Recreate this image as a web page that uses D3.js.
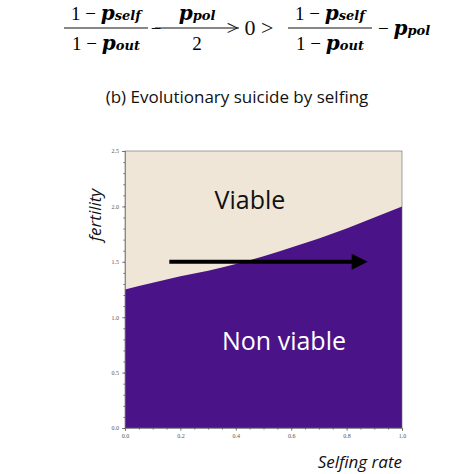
<!DOCTYPE html><html><head><meta charset="utf-8"><script src="https://cdn.jsdelivr.net/npm/d3@7"></script>
<style>body{margin:0;background:#fff}</style></head><body><svg id="c" width="474" height="474"></svg>
<script>
const selfing=[0,0.1,0.2,0.3,0.4,0.5,0.6,0.7,0.8,0.9,1.0];
const boundary=[1.25,1.31,1.37,1.42,1.48,1.55,1.63,1.71,1.80,1.90,2.0];
const arrowX=[0.16,0.83], arrowY=1.5;
const xTicks=[0,0.2,0.4,0.6,0.8,1.0], yTicks=[0,0.5,1.0,1.5,2.0,2.5];
const svg=d3.select("#c");
const x=d3.scaleLinear([0,1],[125,402]), y=d3.scaleLinear([0,2.5],[428,151]);
svg.append("rect").attr("x",x(0)).attr("y",y(2.5)).attr("width",x(1)-x(0)).attr("height",y(0)-y(2.5)).attr("fill","#efe6d7");
const pts=selfing.map((s,i)=>[s,boundary[i]]);
svg.append("path").attr("fill","#4a1488").attr("d",d3.area().x(d=>x(d[0])).y0(y(0)).y1(d=>y(d[1])).curve(d3.curveMonotoneX)(pts));
svg.append("rect").attr("x",x(0)).attr("y",y(2.5)).attr("width",x(1)-x(0)).attr("height",y(0)-y(2.5)).attr("fill","none").attr("stroke","#666").attr("stroke-width",0.6);
const xa=svg.append("g").attr("transform",`translate(0,${y(0)})`).call(d3.axisBottom(x).tickValues(xTicks).tickFormat(d3.format(".1f")).tickSize(3));
const ya=svg.append("g").attr("transform",`translate(${x(0)},0)`).call(d3.axisLeft(y).tickValues(yTicks).tickFormat(d3.format(".1f")).tickSize(3));
svg.append("g").attr("transform",`translate(0,${y(0)})`).call(d3.axisBottom(x).ticks(20).tickFormat("").tickSize(1.5)).select(".domain").remove();
svg.append("g").attr("transform",`translate(${x(0)},0)`).call(d3.axisLeft(y).ticks(25).tickFormat("").tickSize(1.5)).select(".domain").remove();
[xa,ya].forEach(g=>{g.selectAll("text").attr("font-family","Liberation Serif").attr("font-size",6).attr("fill","#555");g.selectAll("line,path").attr("stroke","#666").attr("stroke-width",0.6);});
svg.selectAll("g line").attr("stroke","#666");
svg.append("defs").append("marker").attr("id","ah").attr("viewBox","0 0 10 10").attr("refX",2).attr("refY",5).attr("markerWidth",5).attr("markerHeight",4).attr("orient","auto").append("path").attr("d","M0,0L10,5L0,10z").attr("fill","#000");
svg.append("line").attr("x1",x(arrowX[0])).attr("x2",x(arrowX[1])).attr("y1",y(arrowY)).attr("y2",y(arrowY)).attr("stroke","#000").attr("stroke-width",4).attr("marker-end","url(#ah)");
const t=(tx,ty,s,o={})=>{const e=svg.append("text").attr("x",tx).attr("y",ty).text(s).attr("font-family",o.f||"Open Sans").attr("font-size",o.s||16).attr("fill",o.c||"#111").attr("text-anchor",o.a||"middle");if(o.st)e.attr("font-style",o.st);if(o.w)e.attr("font-weight",o.w);if(o.tr)e.attr("transform",o.tr);return e;};
t(250,209,"Viable",{s:25,c:"#111"});
t(284,350,"Non viable",{s:25,c:"#fff"});
t(402,468,"Selfing rate",{s:17,st:"italic",a:"end"});
t(0,0,"fertility",{s:17,st:"italic",tr:"translate(101,215) rotate(-90)"});
t(237,103,"(b) Evolutionary suicide by selfing",{s:17});
// formula
const F={f:"DejaVu Serif",s:17,w:"bold",st:"italic"};
const N={f:"Liberation Serif",s:19};
function frac(cx,num,den){const g=svg.append("g");
 const a=g.append("text").attr("x",cx).attr("y",20).attr("text-anchor","middle");
 num.forEach(p=>a.append("tspan").text(p[0]).attr("font-family",p[1]?"DejaVu Serif":"Liberation Serif").attr("font-weight",p[1]?"bold":null).attr("font-style",p[1]?"italic":null).attr("font-size",p[2]||19));
 const b=g.append("text").attr("x",cx).attr("y",50).attr("text-anchor","middle");
 den.forEach(p=>b.append("tspan").text(p[0]).attr("font-family",p[1]?"DejaVu Serif":"Liberation Serif").attr("font-weight",p[1]?"bold":null).attr("font-style",p[1]?"italic":null).attr("font-size",p[2]||19));
 g.append("line").attr("x1",cx-42).attr("x2",cx+42).attr("y1",28).attr("y2",28).attr("stroke","#111").attr("stroke-width",1.2);}
frac(106,[["1 − ",0],["p",1,20],["self",1,13]],[["1 − ",0],["p",1,20],["out",1,13]]);
t(156,35,"−",{f:"Liberation Serif",s:19});
frac(197,[["p",1,20],["pol",1,13]],[["2",0]]);
svg.append("line").attr("x1",178).attr("x2",216).attr("y1",28).attr("y2",28).attr("stroke","#fff").attr("stroke-width",2);
svg.append("line").attr("x1",178).attr("x2",216).attr("y1",28).attr("y2",28).attr("stroke","#111").attr("stroke-width",1.2);
t(250,35,"> 0 >",{f:"Liberation Serif",s:22});
frac(330,[["1 − ",0],["p",1,20],["self",1,13]],[["1 − ",0],["p",1,20],["out",1,13]]);
const e=svg.append("text").attr("x",378).attr("y",35);
e.append("tspan").text("− ").attr("font-family","Liberation Serif").attr("font-size",19);
e.append("tspan").text("p").attr("font-family","DejaVu Serif").attr("font-weight","bold").attr("font-style","italic").attr("font-size",20);
e.append("tspan").text("pol").attr("font-family","DejaVu Serif").attr("font-weight","bold").attr("font-style","italic").attr("font-size",13);
</script></body></html>
